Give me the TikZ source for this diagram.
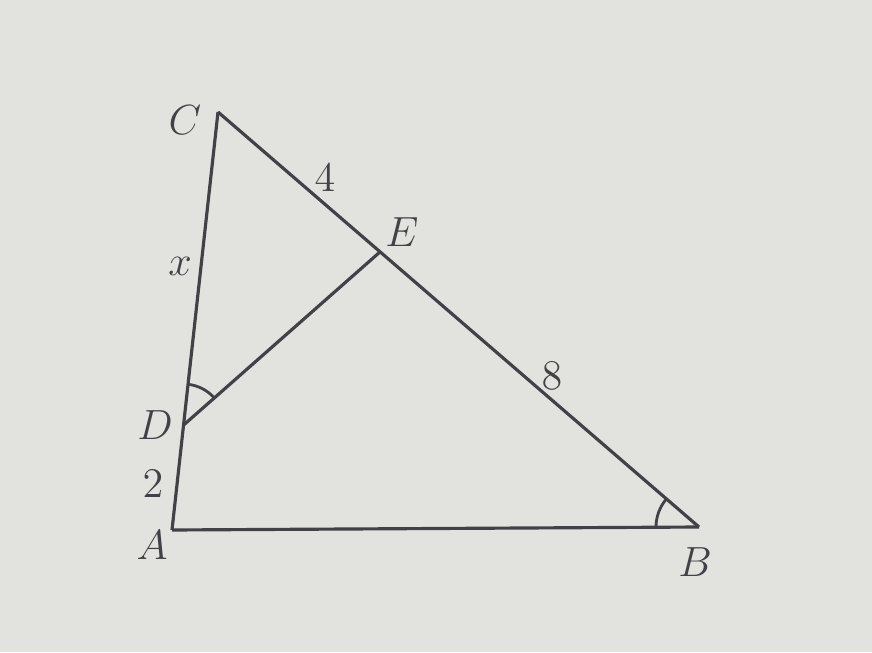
\documentclass[tikz,border=0pt]{standalone}
\usepackage{amsmath}
\usepackage{xcolor}
\usepackage{tikz}
\usetikzlibrary{calc}
\usetikzlibrary{angles}
\usetikzlibrary{positioning}
\definecolor{paper}{RGB}{226,226,222}
\definecolor{ink}{RGB}{66,66,70}

\begin{document}
\begin{tikzpicture}[line width=0.9pt, draw=ink]
	\tikzstyle{lbl}=[inner sep=1pt, text=ink, font=\large]
	\tikzstyle{anglemark}=[draw=ink, line width=0.8pt]
	\fill[paper] (0,0) rectangle (8.72,6.52);
	\useasboundingbox (0,0) rectangle (8.72,6.52);
	% vertices
	\coordinate (A) at (1.72,1.22);
	\coordinate (B) at (6.99,1.25);
	\coordinate (C) at (2.18,5.40);
	\coordinate (D) at ($(A)!0.251!(C)$);
	\coordinate (E) at ($(C)!0.337!(B)$);
	% labels
	\node[lbl] (lC) at (1.85,5.32) {$C$};
	\node[lbl] (lE) at (4.02,4.20) {$E$};
	\node[lbl] (lD) at (1.55,2.27) {$D$};
	\node[lbl] (lA) at (1.52,1.07) {$A$};
	\node[lbl] (lB) at (6.95,0.90) {$B$};
	\node[lbl] (l4) at (3.25,4.74) {$4$};
	\node[lbl] (lx) at (1.80,3.86) {$x$};
	\node[lbl] (l8) at (5.52,2.76) {$8$};
	\node[lbl] (l2) at (1.53,1.68) {$2$};
	\path[draw=ink]
	(A) edge (B)
	(B) edge (C)
	(C) edge (A)
	(D) edge (E);
	\pic[anglemark, angle radius=0.41cm] {angle=E--D--C};
	\pic[anglemark, angle radius=0.43cm] {angle=C--B--A};
\end{tikzpicture}
\end{document}
